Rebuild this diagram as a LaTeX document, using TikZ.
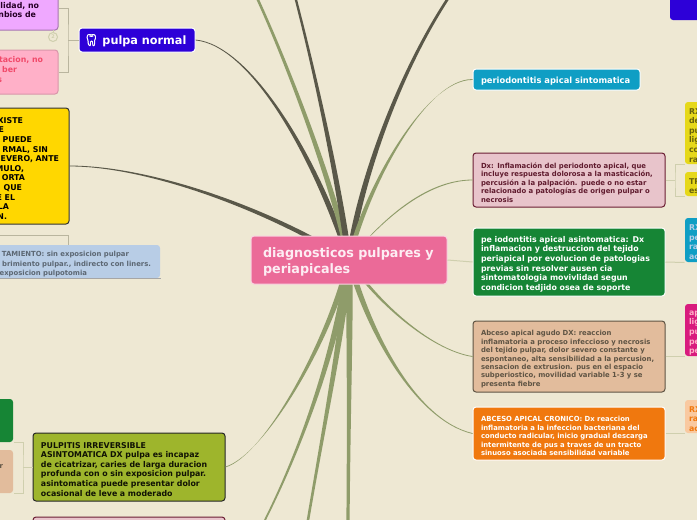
\documentclass[tikz,border=0pt]{standalone}
\usepackage{fontspec}
\usetikzlibrary{calc}
\newfontfamily\mapfont[FakeStretch=0.98]{DejaVu Sans Bold}
\newfontfamily\toothfont[FakeBold=4]{Noto Emoji}
\definecolor{paper}{HTML}{EEE8D3}
\definecolor{darkline}{HTML}{5A5849}
\definecolor{oliveline}{HTML}{8F9C6A}
\definecolor{paleline}{HTML}{CFCFAE}
\definecolor{greyline}{HTML}{B9B59E}
\definecolor{rootpink}{HTML}{EB6A98}
\definecolor{toothblue}{HTML}{2D00D8}
\definecolor{tealbox}{HTML}{0F9EC4}
\definecolor{roseb}{HTML}{E8C4CB}
\definecolor{rosedark}{HTML}{6B1E33}
\definecolor{leafgreen}{HTML}{168535}
\definecolor{tanbox}{HTML}{E2BC9C}
\definecolor{tandark}{HTML}{5F5444}
\definecolor{orangebox}{HTML}{F0780E}
\definecolor{limebox}{HTML}{9EB52C}
\definecolor{goldbox}{HTML}{FFD700}
\definecolor{lilacbox}{HTML}{EFA8FF}
\definecolor{pinkbox}{HTML}{FFB0C8}
\definecolor{skybox}{HTML}{B8CDE6}
\definecolor{citronbox}{HTML}{E6D81A}
\definecolor{magentabox}{HTML}{D81B7E}
\definecolor{peachbox}{HTML}{F9C9A0}
\newcommand{\branch}[7]{\fill [#1] ($(#2)+(#6)$) .. controls ($(#3)+(#6)$) and ($(#4)+(#7)$) .. ($(#5)+(#7)$) -- ($(#5)-(#7)$) .. controls ($(#4)-(#7)$) and ($(#3)-(#6)$) .. ($(#2)-(#6)$) -- cycle;}
\newcommand{\cutend}[1]{\hspace*{#1}\mbox{}}
\begin{document}
\begin{tikzpicture}[x=1pt,y=1pt]
\tikzstyle{every node}+=[inner sep=0pt]
\tikzstyle{mapbox}=[rounded corners=3pt,line width=1pt,draw=white,align=left,font=\mapfont\fontsize{8}{9.6}\selectfont,execute at begin node={\rule{0pt}{10.5pt}}]
\tikzstyle{smalltext}=[font=\mapfont\fontsize{7}{8.4}\selectfont]
\tikzstyle{cutbox}=[mapbox,align=right]
\tikzstyle{sidebox}=[mapbox,draw=none,text width=40pt]
\tikzstyle{bracket}=[paleline,line width=1pt]
\useasboundingbox (0,0) rectangle (697,-520);
\clip (0,0) rectangle (697,-520);
\fill [paper] (0,0) rectangle (697,-520);
\coordinate (hub) at (349,-260);
\coordinate (topa) at (258,0);
\coordinate (topb) at (296,0);
\coordinate (topc) at (447,0);
\coordinate (lowa) at (265,-520);
\coordinate (lowb) at (308,-520);
\coordinate (lowc) at (348,-520);
\node (lilac) [cutbox,fill=lilacbox,draw=lilacbox!70!black,text=black!70!violet,minimum width=118pt,minimum height=44pt,text width=118pt] at (-1,-8) {lidad, no\cutend{19pt}\\nbios de\cutend{22pt}};
\node (pinkb) [cutbox,fill=pinkbox,draw=pinkbox!85!black,text=rootpink!70!red,minimum width=118pt,minimum height=44pt,text width=118pt] at (-1,-72) {tacion, no\cutend{15pt}\\ber\cutend{41pt}\\s\cutend{56pt}\\\mbox{}};
\node (count) [circle,draw=paleline,line width=1pt,minimum size=9pt,text=paleline,font=\mapfont\fontsize{5}{6}\selectfont] at (53,-37) {2};
\node (pulpa) [mapbox,fill=toothblue,text=white,minimum width=116pt,minimum height=24pt,text width=106pt,font=\mapfont\fontsize{11.5}{13}\selectfont] at (137,-40) {\mbox{{\toothfont\char"1F9B7}\ pulpa normal}};
\node (gold) [cutbox,fill=goldbox,draw=black!80,text=black,minimum width=129pt,minimum height=116pt,text width=129pt] at (4.5,-166) {XISTE\cutend{46pt}\\E\cutend{65pt}\\PUEDE\cutend{37pt}\\RMAL, SIN\cutend{21pt}\\EVERO, ANTE\cutend{10pt}\\MULO,\cutend{45pt}\\ORTA\cutend{44pt}\\QUE\cutend{47pt}\\E EL\cutend{54pt}\\LA\cutend{60pt}\\N.\cutend{62pt}};
\node (sky) [cutbox,fill=skybox,draw=none,text=black!50!skybox,minimum width=220pt,minimum height=33pt,text width=220pt,font=\mapfont\fontsize{7}{9.6}\selectfont] at (50,-261.5) {TAMIENTO: sin exposicion pulpar\cutend{31pt}\\brimiento pulpar., indirecto con liners.\cutend{9pt}\\exposicion pulpotomia\cutend{73pt}};
\node (sheet) [mapbox,fill=leafgreen,draw=none,minimum width=60pt,minimum height=43pt] at (-17,-420.5) {};
\node (peel) [cutbox,smalltext,fill=tanbox,draw=none,text=tandark,minimum width=60pt,minimum height=43pt,text width=60pt] at (-17,-471.5) {r\cutend{10pt}\\\mbox{}\\\mbox{}};
\node (pulpitis) [mapbox,fill=limebox,draw=black!85,text=black!90!limebox,minimum width=192pt,minimum height=68pt,text width=176pt] at (129,-467) {PULPITIS IRREVERSIBLE\\ASINTOMATICA DX pulpa es incapaz\\de cicatrizar, caries de larga duracion\\profunda con o sin exposicion pulpar.\\asintomatica puede presentar dolor\\ocasional de leve a moderado};
\node (rosec) [mapbox,fill=roseb,draw=rosedark,minimum width=192pt,minimum height=60pt] at (129,-547) {};
\node (sinto) [mapbox,fill=tealbox,text=white,minimum width=167pt,minimum height=21pt,text width=151pt,font=\mapfont\fontsize{8.5}{10}\selectfont] at (556.5,-79.5) {periodontitis apical sintomatica};
\node (dx) [mapbox,smalltext,fill=roseb,draw=rosedark,text=rosedark!90!black,minimum width=192pt,minimum height=54pt,text width=176pt] at (569,-180) {Dx: Inflamación del periodonto apical, que\\incluye respuesta dolorosa a la masticación,\\percusión  a la palpación. puede o no estar\\relacionado a patologías de origen pulpar o\\necrosis};
\node (asin) [mapbox,fill=leafgreen,text=white,minimum width=192pt,minimum height=68pt,text width=176pt] at (569,-262) {pe iodontitis apical asintomatica: Dx\\inflamacion y destruccion del tejido\\periapical por evolucion de patologias\\previas sin resolver  ausen cia\\sintomatologia movivlidad segun\\condicion tedjido osea de soporte};
\node (agudo) [mapbox,smalltext,fill=tanbox,draw=tandark,text=tandark,minimum width=192pt,minimum height=71pt,text width=176pt] at (569,-356.5) {Abceso apical agudo DX: reaccion\\inflamatoria a proceso infeccioso y necrosis\\del tejido pulpar, dolor severo constante y\\espontaneo, alta sensibilidad a la percusion,\\sensacion de extrusion. pus en el espacio\\subperiostico, movilidad variable 1-3 y se\\presenta fiebre};
\node (cronico) [mapbox,smalltext,fill=orangebox,text=white,minimum width=192pt,minimum height=53pt,text width=176pt] at (569,-433.5) {ABCESO APICAL CRONICO: Dx  reaccion\\inflamatoria a la infeccion bacteriana del\\conducto radicular, inicio gradual descarga\\intermitente de pus a traves de un tracto\\sinuoso asociada  sensibilidad variable};
\node (rxa) [sidebox,fill=citronbox,text=black!55!citronbox,minimum width=48pt,minimum height=62pt] at (709,-133) {RX\\de\\pu\\lig\\co\\ra};
\node (trb) [sidebox,fill=citronbox,text=black!55!citronbox,minimum width=48pt,minimum height=24pt] at (709,-184) {TR\\es};
\node (rxc) [sidebox,fill=tealbox,text=skybox,minimum width=48pt,minimum height=44pt] at (709,-240) {RX\\pe\\ra\\ac};
\node (apd) [sidebox,fill=magentabox,text=pinkbox,minimum width=48pt,minimum height=52pt] at (709,-330) {ap\\lig\\pu\\pe\\pe};
\node (rxe) [sidebox,fill=peachbox,text=orangebox,minimum width=48pt,minimum height=33pt] at (709,-416.5) {RX\\ra\\ac};
\node (corner) [mapbox,fill=toothblue,draw=none,minimum width=60pt,minimum height=25pt] at (700,-7.5) {};
\coordinate (brka) at (68,-40);
\coordinate (brkb) at (675,-180);
\coordinate (brkc) at (23,-467);
\coordinate (brkd) at (-10,-235);
\coordinate (brke) at (68,-245);
\draw [bracket,greyline] (lilac.east) -| (brka) |- (pinkb.east);
\draw [bracket,greyline] (brka) -- (pulpa.west);
\draw [bracket] (count) -- (53,-30);
\draw [bracket] (rxa.south west) -| (brkb) |- (trb.south west);
\draw [bracket] (dx.east) -- (brkb);
\draw [bracket] (asin.east) -- (rxc.south west);
\draw [bracket] (agudo.east) -- (apd.south west);
\draw [bracket] (cronico.east) -- (rxe.south west);
\draw [bracket] (sheet.south east) -| (brkc) |- (peel.south east);
\draw [bracket] (brkc) -- (pulpitis.west);
\draw [bracket,greyline] (brkd) -| (brke);
\draw [black!35,line width=.8pt] (sky.south west) -- (sky.south east);
\branch{darkline}{pulpa.east}{250,-45}{315,-155}{hub}{0,.4}{3,0}
\branch{darkline}{gold.east}{150,-166}{270,-210}{hub}{0,.4}{0,2.6}
\branch{oliveline}{topa}{290,-70}{335,-190}{hub}{1.4,0}{3,0}
\branch{darkline}{topb}{318,-85}{340,-190}{hub}{1.2,0}{3,0}
\branch{darkline}{topc}{395,-80}{358,-190}{hub}{1.6,0}{3,0}
\branch{oliveline}{sinto.west}{425,-79}{365,-190}{hub}{0,.4}{2.5,0}
\branch{oliveline}{dx.west}{425,-180}{380,-222}{hub}{0,.4}{1.5,2}
\branch{oliveline}{agudo.west}{430,-350}{375,-300}{hub}{0,.4}{2,0}
\branch{oliveline}{cronico.west}{415,-420}{368,-330}{hub}{0,.4}{3,0}
\branch{oliveline}{pulpitis.east}{265,-455}{330,-340}{hub}{0,.4}{3,0}
\branch{oliveline}{lowa}{310,-430}{340,-330}{hub}{1,0}{3.5,0}
\branch{oliveline}{lowb}{325,-420}{343,-330}{hub}{1.3,0}{3.5,0}
\branch{oliveline}{lowc}{349,-400}{350,-320}{hub}{1.6,0}{3.5,0}
\node (root) [mapbox,fill=rootpink,draw=rootpink!30!white,text=rootpink!12!white,minimum width=196pt,minimum height=48pt,text width=172pt,font=\mapfont\fontsize{13}{16}\selectfont,execute at begin node={\rule{0pt}{14pt}}] at (349,-260) {diagnosticos pulpares y\\periapicales};
\draw [bracket] (root.east) -- (asin.west);
\end{tikzpicture}
\end{document}
